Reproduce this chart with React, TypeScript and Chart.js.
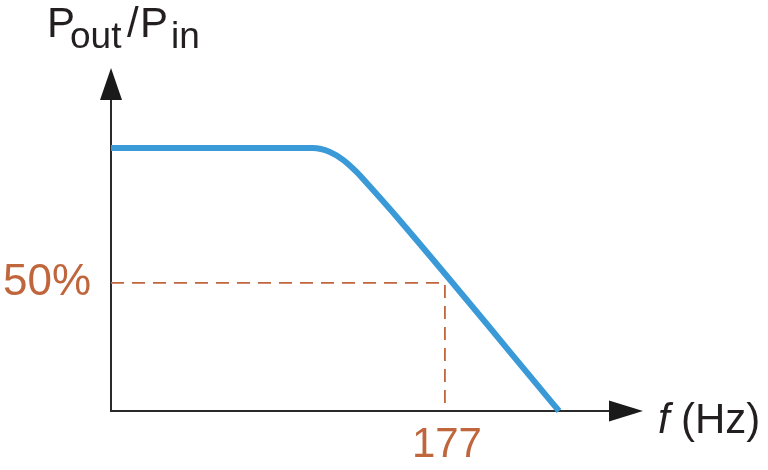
import React, { useEffect, useRef } from "react";
import { Chart, registerables } from "chart.js";

Chart.register(...registerables);

// Data (frequency in Hz, relative power Pout/Pin)
const freqs = [0, 107, 116, 123, 130, 137, 153, 237.5];
const power = [1, 1, 0.985, 0.955, 0.91, 0.855, 0.725, 0];
const cutoffFreq = 177;
const halfLevel = 0.487;
const halfLabel = "50%";
const cutoffLabel = "177";
const xMax = 282;
const yMax = 1.304;

const BLUE = "#3a9ad7";
const ORANGE = "#c0663c";
const INK = "#231f20";
const FONT = "'Liberation Sans', Arial, Helvetica, sans-serif";

const overlay = {
  id: "overlay",
  beforeDatasetsDraw(chart: any) {
    const { ctx, chartArea } = chart;
    const { left, right, top, bottom } = chartArea;
    ctx.save();
    ctx.strokeStyle = "#2a2a2a";
    ctx.fillStyle = "#1a1a1a";
    ctx.lineWidth = 2;
    // y axis
    ctx.beginPath();
    ctx.moveTo(left, bottom + 1);
    ctx.lineTo(left, top + 30);
    ctx.stroke();
    ctx.beginPath();
    ctx.moveTo(left, top);
    ctx.lineTo(left - 11, top + 32);
    ctx.lineTo(left + 11, top + 32);
    ctx.closePath();
    ctx.fill();
    // x axis
    ctx.beginPath();
    ctx.moveTo(left - 1, bottom);
    ctx.lineTo(right - 32, bottom);
    ctx.stroke();
    ctx.beginPath();
    ctx.moveTo(right, bottom);
    ctx.lineTo(right - 34, bottom - 10.5);
    ctx.lineTo(right - 34, bottom + 10.5);
    ctx.closePath();
    ctx.fill();
    ctx.restore();
  },
  afterDraw(chart: any) {
    const { ctx, chartArea, scales } = chart;
    const xs = scales.x;
    const ys = scales.y;
    ctx.save();
    // tick labels
    ctx.fillStyle = ORANGE;
    ctx.textBaseline = "alphabetic";
    ctx.textAlign = "right";
    ctx.font = `44px ${FONT}`;
    ctx.fillText(halfLabel, chartArea.left - 20, ys.getPixelForValue(halfLevel) + 12);
    ctx.textAlign = "center";
    ctx.font = `42px ${FONT}`;
    ctx.fillText(cutoffLabel, xs.getPixelForValue(cutoffFreq) + 2, chartArea.bottom + 46);

    // axis titles
    ctx.fillStyle = INK;
    ctx.textAlign = "left";
    ctx.font = `42px ${FONT}`;
    ctx.fillText("P", 47, 37);
    ctx.fillText("/", 127, 37);
    ctx.fillText("P", 140, 37);
    ctx.font = `37px ${FONT}`;
    ctx.fillText("out", 70, 48);
    ctx.fillText("in", 171, 48);

    const xb = chartArea.bottom + 22;
    ctx.font = `italic 42px ${FONT}`;
    ctx.fillText("f", chartArea.right + 15, xb);
    ctx.font = `42px ${FONT}`;
    ctx.fillText("(Hz)", chartArea.right + 38, xb);
    ctx.restore();
  },
};

export default function App() {
  const ref = useRef<HTMLCanvasElement | null>(null);
  useEffect(() => {
    if (!ref.current) return;
    const chart = new Chart(ref.current, {
      type: "line",
      data: {
        datasets: [
          {
            data: [
              { x: 0, y: halfLevel },
              { x: cutoffFreq, y: halfLevel },
              { x: cutoffFreq, y: 0 },
            ],
            borderColor: ORANGE,
            borderWidth: 1.8,
            borderDash: [13, 8],
            pointRadius: 0,
            tension: 0,
            clip: false as any,
            order: 2,
          },
          {
            data: freqs.map((f, i) => ({ x: f, y: power[i] })),
            borderColor: BLUE,
            borderWidth: 6,
            pointRadius: 0,
            cubicInterpolationMode: "monotone",
            borderCapStyle: "butt",
            borderJoinStyle: "round",
            clip: false as any,
            order: 1,
          },
        ],
      },
      options: {
        animation: false,
        responsive: true,
        maintainAspectRatio: false,
        layout: { padding: { left: 111, right: 125, top: 68, bottom: 59 } },
        plugins: { legend: { display: false }, tooltip: { enabled: false } },
        scales: {
          x: { type: "linear", min: 0, max: xMax, display: false },
          y: { type: "linear", min: 0, max: yMax, display: false },
        },
      },
      plugins: [overlay],
    });
    return () => chart.destroy();
  }, []);
  return (
    <div style={{ position: "fixed", left: 0, top: 0, width: 768, height: 470, background: "#fff" }}>
      <canvas ref={ref} />
    </div>
  );
}
